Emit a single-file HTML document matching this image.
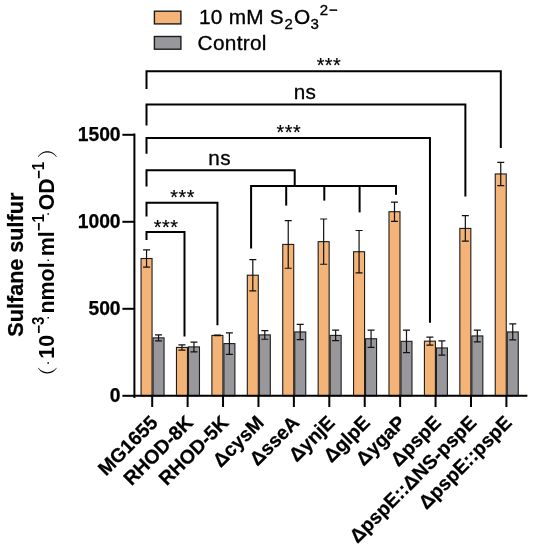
<!DOCTYPE html>
<html><head><meta charset="utf-8"><title>Sulfane sulfur chart</title>
<style>html,body{margin:0;padding:0;background:#fff}svg{display:block}</style></head>
<body>
<svg width="534" height="550" viewBox="0 0 534 550" font-family="'Liberation Sans', sans-serif">
<rect width="534" height="550" fill="#fff"/>
<rect x="141.05" y="258.51" width="11.00" height="137.29" fill="#F4B377" stroke="#1c1c1c" stroke-width="1.1"/>
<path d="M146.55 249.81V267.21M143.05 249.81h7M143.05 267.21h7" stroke="#111" stroke-width="1.2" fill="none"/>
<rect x="153.05" y="337.86" width="11.00" height="57.94" fill="#98989C" stroke="#1c1c1c" stroke-width="1.1"/>
<path d="M158.55 334.90V340.82M155.05 334.90h7M155.05 340.82h7" stroke="#111" stroke-width="1.2" fill="none"/>
<rect x="176.47" y="347.43" width="11.00" height="48.37" fill="#F4B377" stroke="#1c1c1c" stroke-width="1.1"/>
<path d="M181.97 344.82V350.04M178.47 344.82h7M178.47 350.04h7" stroke="#111" stroke-width="1.2" fill="none"/>
<rect x="188.47" y="346.91" width="11.00" height="48.89" fill="#98989C" stroke="#1c1c1c" stroke-width="1.1"/>
<path d="M193.97 342.03V351.78M190.47 342.03h7M190.47 351.78h7" stroke="#111" stroke-width="1.2" fill="none"/>
<rect x="211.89" y="335.42" width="11.00" height="60.38" fill="#F4B377" stroke="#1c1c1c" stroke-width="1.1"/>
<path d="M217.39 335.07V335.77M213.89 335.07h7M213.89 335.77h7" stroke="#111" stroke-width="1.2" fill="none"/>
<rect x="223.89" y="343.60" width="11.00" height="52.20" fill="#98989C" stroke="#1c1c1c" stroke-width="1.1"/>
<path d="M229.39 332.81V354.39M225.89 332.81h7M225.89 354.39h7" stroke="#111" stroke-width="1.2" fill="none"/>
<rect x="247.31" y="275.22" width="11.00" height="120.58" fill="#F4B377" stroke="#1c1c1c" stroke-width="1.1"/>
<path d="M252.81 259.56V290.88M249.31 259.56h7M249.31 290.88h7" stroke="#111" stroke-width="1.2" fill="none"/>
<rect x="259.31" y="334.90" width="11.00" height="60.90" fill="#98989C" stroke="#1c1c1c" stroke-width="1.1"/>
<path d="M264.81 330.55V339.25M261.31 330.55h7M261.31 339.25h7" stroke="#111" stroke-width="1.2" fill="none"/>
<rect x="282.73" y="244.42" width="11.00" height="151.38" fill="#F4B377" stroke="#1c1c1c" stroke-width="1.1"/>
<path d="M288.23 220.58V268.26M284.73 220.58h7M284.73 268.26h7" stroke="#111" stroke-width="1.2" fill="none"/>
<rect x="294.73" y="331.94" width="11.00" height="63.86" fill="#98989C" stroke="#1c1c1c" stroke-width="1.1"/>
<path d="M300.23 324.29V339.60M296.73 324.29h7M296.73 339.60h7" stroke="#111" stroke-width="1.2" fill="none"/>
<rect x="318.15" y="241.64" width="11.00" height="154.16" fill="#F4B377" stroke="#1c1c1c" stroke-width="1.1"/>
<path d="M323.65 219.02V264.26M320.15 219.02h7M320.15 264.26h7" stroke="#111" stroke-width="1.2" fill="none"/>
<rect x="330.15" y="335.42" width="11.00" height="60.38" fill="#98989C" stroke="#1c1c1c" stroke-width="1.1"/>
<path d="M335.65 330.20V340.64M332.15 330.20h7M332.15 340.64h7" stroke="#111" stroke-width="1.2" fill="none"/>
<rect x="353.57" y="251.73" width="11.00" height="144.07" fill="#F4B377" stroke="#1c1c1c" stroke-width="1.1"/>
<path d="M359.07 230.50V272.96M355.57 230.50h7M355.57 272.96h7" stroke="#111" stroke-width="1.2" fill="none"/>
<rect x="365.57" y="338.73" width="11.00" height="57.07" fill="#98989C" stroke="#1c1c1c" stroke-width="1.1"/>
<path d="M371.07 330.03V347.43M367.57 330.03h7M367.57 347.43h7" stroke="#111" stroke-width="1.2" fill="none"/>
<rect x="388.99" y="211.71" width="11.00" height="184.09" fill="#F4B377" stroke="#1c1c1c" stroke-width="1.1"/>
<path d="M394.49 202.14V221.28M390.99 202.14h7M390.99 221.28h7" stroke="#111" stroke-width="1.2" fill="none"/>
<rect x="400.99" y="341.34" width="11.00" height="54.46" fill="#98989C" stroke="#1c1c1c" stroke-width="1.1"/>
<path d="M406.49 330.03V352.65M402.99 330.03h7M402.99 352.65h7" stroke="#111" stroke-width="1.2" fill="none"/>
<rect x="424.41" y="341.16" width="11.00" height="54.64" fill="#F4B377" stroke="#1c1c1c" stroke-width="1.1"/>
<path d="M429.91 337.16V345.17M426.41 337.16h7M426.41 345.17h7" stroke="#111" stroke-width="1.2" fill="none"/>
<rect x="436.41" y="347.95" width="11.00" height="47.85" fill="#98989C" stroke="#1c1c1c" stroke-width="1.1"/>
<path d="M441.91 340.82V355.08M438.41 340.82h7M438.41 355.08h7" stroke="#111" stroke-width="1.2" fill="none"/>
<rect x="459.83" y="228.41" width="11.00" height="167.39" fill="#F4B377" stroke="#1c1c1c" stroke-width="1.1"/>
<path d="M465.33 215.71V241.11M461.83 215.71h7M461.83 241.11h7" stroke="#111" stroke-width="1.2" fill="none"/>
<rect x="471.83" y="335.94" width="11.00" height="59.86" fill="#98989C" stroke="#1c1c1c" stroke-width="1.1"/>
<path d="M477.33 330.03V341.86M473.83 330.03h7M473.83 341.86h7" stroke="#111" stroke-width="1.2" fill="none"/>
<rect x="495.25" y="173.95" width="11.00" height="221.85" fill="#F4B377" stroke="#1c1c1c" stroke-width="1.1"/>
<path d="M500.75 162.29V185.61M497.25 162.29h7M497.25 185.61h7" stroke="#111" stroke-width="1.2" fill="none"/>
<rect x="507.25" y="331.94" width="11.00" height="63.86" fill="#98989C" stroke="#1c1c1c" stroke-width="1.1"/>
<path d="M512.75 323.94V339.95M509.25 323.94h7M509.25 339.95h7" stroke="#111" stroke-width="1.2" fill="none"/>
<path d="M134.4 133.5V398M133.4 395.8H527.4" stroke="#000" stroke-width="2" fill="none"/>
<path d="M122.4 395.80H134.4" stroke="#000" stroke-width="2"/>
<text x="120.6" y="402.40" font-size="19.3" font-weight="bold" text-anchor="end" stroke="#000" stroke-width="0.25">0</text>
<path d="M122.4 308.80H134.4" stroke="#000" stroke-width="2"/>
<text x="120.6" y="315.40" font-size="19.3" font-weight="bold" text-anchor="end" stroke="#000" stroke-width="0.25">500</text>
<path d="M122.4 221.80H134.4" stroke="#000" stroke-width="2"/>
<text x="120.6" y="228.40" font-size="19.3" font-weight="bold" text-anchor="end" stroke="#000" stroke-width="0.25">1000</text>
<path d="M122.4 134.80H134.4" stroke="#000" stroke-width="2"/>
<text x="120.6" y="141.40" font-size="19.3" font-weight="bold" text-anchor="end" stroke="#000" stroke-width="0.25">1500</text>
<path d="M152.20 395.8V407" stroke="#000" stroke-width="2"/>
<text transform="translate(158.80 423.8) rotate(-45)" font-size="19.5" font-weight="bold" text-anchor="end" stroke="#000" stroke-width="0.25">MG1655</text>
<path d="M187.62 395.8V407" stroke="#000" stroke-width="2"/>
<text transform="translate(194.22 423.8) rotate(-45)" font-size="19.5" font-weight="bold" text-anchor="end" stroke="#000" stroke-width="0.25">RHOD-8K</text>
<path d="M223.04 395.8V407" stroke="#000" stroke-width="2"/>
<text transform="translate(229.64 423.8) rotate(-45)" font-size="19.5" font-weight="bold" text-anchor="end" stroke="#000" stroke-width="0.25">RHOD-5K</text>
<path d="M258.46 395.8V407" stroke="#000" stroke-width="2"/>
<text transform="translate(265.06 423.8) rotate(-45)" font-size="19.5" font-weight="bold" text-anchor="end" stroke="#000" stroke-width="0.25">ΔcysM</text>
<path d="M293.88 395.8V407" stroke="#000" stroke-width="2"/>
<text transform="translate(300.48 423.8) rotate(-45)" font-size="19.5" font-weight="bold" text-anchor="end" stroke="#000" stroke-width="0.25">ΔsseA</text>
<path d="M329.30 395.8V407" stroke="#000" stroke-width="2"/>
<text transform="translate(335.90 423.8) rotate(-45)" font-size="19.5" font-weight="bold" text-anchor="end" stroke="#000" stroke-width="0.25">ΔynjE</text>
<path d="M364.72 395.8V407" stroke="#000" stroke-width="2"/>
<text transform="translate(371.32 423.8) rotate(-45)" font-size="19.5" font-weight="bold" text-anchor="end" stroke="#000" stroke-width="0.25">ΔglpE</text>
<path d="M400.14 395.8V407" stroke="#000" stroke-width="2"/>
<text transform="translate(406.74 423.8) rotate(-45)" font-size="19.5" font-weight="bold" text-anchor="end" stroke="#000" stroke-width="0.25">ΔygaP</text>
<path d="M435.56 395.8V407" stroke="#000" stroke-width="2"/>
<text transform="translate(442.16 423.8) rotate(-45)" font-size="19.5" font-weight="bold" text-anchor="end" stroke="#000" stroke-width="0.25">ΔpspE</text>
<path d="M470.98 395.8V407" stroke="#000" stroke-width="2"/>
<text transform="translate(477.58 423.8) rotate(-45)" font-size="19.5" font-weight="bold" text-anchor="end" stroke="#000" stroke-width="0.25">ΔpspE::ΔNS-pspE</text>
<path d="M506.40 395.8V407" stroke="#000" stroke-width="2"/>
<text transform="translate(513.00 423.8) rotate(-45)" font-size="19.5" font-weight="bold" text-anchor="end" stroke="#000" stroke-width="0.25">ΔpspE::pspE</text>
<path d="M146.50 89V71.3H500.80V148" stroke="#000" stroke-width="2" fill="none" stroke-linejoin="miter"/>
<text x="328.95" y="72.0" font-size="19.8" letter-spacing="0.5" text-anchor="middle" stroke="#000" stroke-width="0.2">***</text>
<path d="M146.50 125.5V104.4H465.38V196.5" stroke="#000" stroke-width="2" fill="none" stroke-linejoin="miter"/>
<text x="304.94" y="98.5" font-size="20.7" letter-spacing="0.3" text-anchor="middle" stroke="#000" stroke-width="0.3">ns</text>
<path d="M146.50 153.7V138H429.96V322.8" stroke="#000" stroke-width="2" fill="none" stroke-linejoin="miter"/>
<text x="288.83" y="138.5" font-size="19.8" letter-spacing="0.5" text-anchor="middle" stroke="#000" stroke-width="0.2">***</text>
<path d="M146.50 186.5V170.3H294.70V185.9" stroke="#000" stroke-width="2" fill="none" stroke-linejoin="miter"/>
<text x="219.60" y="164.5" font-size="20.7" letter-spacing="0.3" text-anchor="middle" stroke="#000" stroke-width="0.3">ns</text>
<path d="M146.50 216.5V202.7H217.44V325.3" stroke="#000" stroke-width="2" fill="none" stroke-linejoin="miter"/>
<text x="182.57" y="203.5" font-size="19.8" letter-spacing="0.5" text-anchor="middle" stroke="#000" stroke-width="0.2">***</text>
<path d="M146.50 240V232H184.50V336.5" stroke="#000" stroke-width="2" fill="none" stroke-linejoin="miter"/>
<text x="166.10" y="233.5" font-size="19.8" letter-spacing="0.5" text-anchor="middle" stroke="#000" stroke-width="0.2">***</text>
<path d="M251.10 248.4V185.9H396.00V194.8" stroke="#000" stroke-width="2" fill="none"/>
<path d="M286.20 185.9V205.6" stroke="#000" stroke-width="2"/>
<path d="M324.30 185.9V200.6" stroke="#000" stroke-width="2"/>
<path d="M359.60 185.9V212.4" stroke="#000" stroke-width="2"/>
<rect x="154.4" y="11.2" width="26.5" height="12.7" fill="#F4B377" stroke="#1c1c1c" stroke-width="1.4"/>
<rect x="154.4" y="36.5" width="26.5" height="12.7" fill="#98989C" stroke="#1c1c1c" stroke-width="1.4"/>
<text x="199" y="24.4" font-size="20.8" letter-spacing="0.25" stroke="#000" stroke-width="0.35">10 mM S<tspan font-size="15" dy="4.8" dx="0.6">2</tspan><tspan dy="-4.8" dx="0.9">O</tspan><tspan font-size="15" dy="4.8" dx="0.1">3</tspan><tspan font-size="15" dy="-14.3" dx="0.6" letter-spacing="0.9">2−</tspan></text>
<text x="197.6" y="50" font-size="20.8" letter-spacing="0.3" stroke="#000" stroke-width="0.35">Control</text>
<text transform="translate(23.2 264.65) rotate(-90)" font-size="21.6" font-weight="bold" text-anchor="middle" stroke="#000" stroke-width="0.25">Sulfane sulfur</text>
<text transform="translate(53.8 358.7) rotate(-90) scale(1.0 1)" font-size="21.4" font-weight="bold">10</text>
<text transform="translate(43.8 333.7) rotate(-90) scale(0.93 1)" font-size="16.2" font-weight="bold">−3</text>
<text transform="translate(53.8 313.5) rotate(-90) scale(1.0 1)" font-size="21.4" font-weight="bold">nmol</text>
<text transform="translate(53.8 256.3) rotate(-90) scale(1.0 1)" font-size="21.4" font-weight="bold">ml</text>
<text transform="translate(43.8 231.3) rotate(-90) scale(0.93 1)" font-size="16.2" font-weight="bold">−1</text>
<text transform="translate(53.8 210.3) rotate(-90) scale(1.0 1)" font-size="21.2" font-weight="bold">OD</text>
<text transform="translate(43.8 179.1) rotate(-90) scale(0.93 1)" font-size="16.2" font-weight="bold">−1</text>
<text transform="translate(52.0 365.5) rotate(-90) scale(1.0 1)" font-size="15" font-weight="normal">·</text>
<text transform="translate(52.0 320.2) rotate(-90) scale(1.0 1)" font-size="15" font-weight="normal">·</text>
<text transform="translate(52.0 262.7) rotate(-90) scale(1.0 1)" font-size="15" font-weight="normal">·</text>
<text transform="translate(52.0 216.6) rotate(-90) scale(1.0 1)" font-size="15" font-weight="normal">·</text>
<text transform="translate(54.6 386.5) rotate(-90)" font-size="20" font-family="'Liberation Sans', 'Noto Serif CJK SC', serif">（</text>
<text transform="translate(54.6 158.3) rotate(-90)" font-size="20" font-family="'Liberation Sans', 'Noto Serif CJK SC', serif">）</text>
</svg>
</body></html>
